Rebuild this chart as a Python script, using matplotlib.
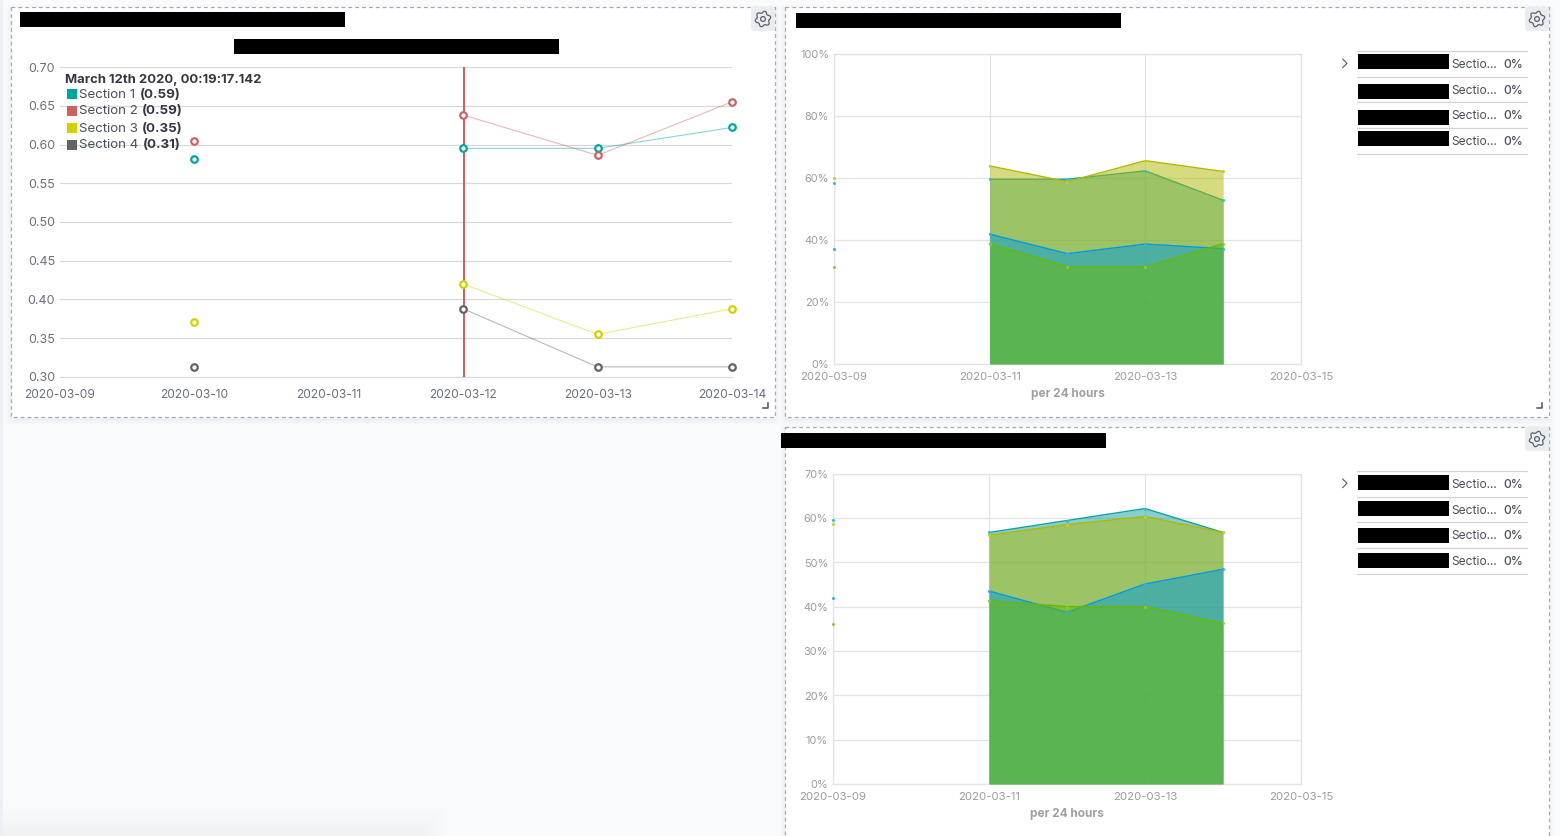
import numpy as np
import pandas as pd
import matplotlib
matplotlib.use("Agg")
import matplotlib.pyplot as plt
from matplotlib.patches import Rectangle, Polygon, Circle, FancyBboxPatch
from matplotlib.lines import Line2D
from matplotlib.transforms import ScaledTranslation

plt.rcParams["font.family"] = ["Inter", "DejaVu Sans"]

W, H = 1560, 836

# line chart
line_dates = pd.to_datetime(["2020-03-09", "2020-03-10", "2020-03-11", "2020-03-12", "2020-03-13", "2020-03-14"])
line_ticks = ["2020-03-09", "2020-03-10", "2020-03-11", "2020-03-12", "2020-03-13", "2020-03-14"]
section1 = [np.nan, 0.581, np.nan, 0.595, 0.595, 0.622]
section2 = [np.nan, 0.604, np.nan, 0.638, 0.586, 0.655]
section3 = [np.nan, 0.371, np.nan, 0.420, 0.355, 0.388]
section4 = [np.nan, 0.313, np.nan, 0.388, 0.313, 0.313]
line_yticks = [0.30, 0.35, 0.40, 0.45, 0.50, 0.55, 0.60, 0.65, 0.70]
cursor_time = "2020-03-12 00:08"
tooltip_title = "March 12th 2020, 00:19:17.142"
tooltip_names = ["Section 1", "Section 2", "Section 3", "Section 4"]
tooltip_values = ["(0.59)", "(0.59)", "(0.35)", "(0.31)"]

# area charts
area_dates = pd.to_datetime(["2020-03-09", "2020-03-10", "2020-03-11", "2020-03-12", "2020-03-13", "2020-03-14"])
area_ticks = ["2020-03-09", "2020-03-11", "2020-03-13", "2020-03-15"]

top_teal = [58.4, np.nan, 59.6, 59.6, 62.3, 52.8]
top_yellow = [60.0, np.nan, 63.9, 58.8, 65.6, 62.1]
top_blue = [37.1, np.nan, 41.9, 35.6, 38.7, 37.2]
top_green = [31.3, np.nan, 38.8, 31.4, 31.4, 38.8]

low_teal = [59.5, np.nan, 56.7, 59.4, 62.1, 56.7]
low_yellow = [58.6, np.nan, 56.1, 58.5, 60.3, 56.7]
low_blue = [41.9, np.nan, 43.5, 38.7, 45.1, 48.4]
low_green = [36.0, np.nan, 41.3, 40.0, 40.0, 36.2]

TEAL, RED, YELLOW, GREY = "#00A69B", "#CA6464", "#D2D200", "#636363"
A_TEAL, A_YELLOW, A_BLUE, A_GREEN = "#10A19F", "#B1B900", "#009CDF", "#66BA01"
D_TEAL, D_YELLOW, D_BLUE, D_GREEN = "#35BFD0", "#C4D02E", "#30B0E8", "#8CCB30"

fig = plt.figure(figsize=(W / 100, H / 100), dpi=100, facecolor="#FAFBFD")


def px_axes(x0, y0, x1, y1, z=1):
    return fig.add_axes([x0 / W, 1 - y1 / H, (x1 - x0) / W, (y1 - y0) / H], zorder=z)


# page furniture in pixel coordinates
bg = px_axes(0, 0, W, H, 0)
bg.set_xlim(0, W)
bg.set_ylim(H, 0)
bg.axis("off")
over = px_axes(0, 0, W, H, 5)
over.set_xlim(0, W)
over.set_ylim(H, 0)
over.axis("off")
over.patch.set_alpha(0)

bg.add_patch(Rectangle((0, 0), 2.5, H, fc="#EEF0F6", ec="none"))
# grey fade at the bottom left of the page
for i in range(10):
    bg.add_patch(Rectangle((3, 806 + i * 3), 445 - 3 * i, 40, fc="#98A2B3", ec="none", alpha=0.008))


def panel(x0, y0, x1, y1):
    for i in range(1, 6):
        bg.add_patch(Rectangle((x0 - i, y0 - i + 3), x1 - x0 + 2 * i, y1 - y0 + 2 * i, fc="#98A2B3", ec="none", alpha=0.02))
    bg.add_patch(Rectangle((x0, y0), x1 - x0, y1 - y0, fc="white", ec="#A0A9C0", lw=0.9, ls=(0, (3, 2.5))))


def gear(cx, cy):
    over.add_patch(FancyBboxPatch((cx - 12, cy - 12), 24, 24, boxstyle="round,pad=0,rounding_size=3", fc="#EAECEE", ec="none"))
    ang = np.linspace(0, 2 * np.pi, 145)
    rad = 6.9 + 1.0 * np.cos(6 * ang + np.pi / 2)
    pts = np.column_stack((cx + rad * np.cos(ang), cy + rad * np.sin(ang)))
    over.add_patch(Polygon(pts, closed=True, fc="none", ec="#5A6270", lw=0.9))
    over.add_patch(Circle((cx, cy), 2.4, fc="none", ec="#5A6270", lw=0.9))


def corner(x, y):
    over.add_line(Line2D([x - 5, x, x], [y, y, y - 5], color="#4A5260", lw=1.1))


def redact(x0, y0, x1, y1):
    over.add_patch(Rectangle((x0, y0), x1 - x0, y1 - y0, fc="black", ec="none"))


panel(10.5, 7, 775, 417)
panel(784.5, 7, 1549, 417)
panel(784.5, 427, 1549, 850)
gear(763, 19)
gear(1537, 19)
gear(1537, 439)
corner(767.5, 408)
corner(1541.5, 408)

redact(20, 12, 345, 27)
redact(234, 39, 559, 54)
redact(796, 13, 1121, 28)
redact(781, 433, 1106, 448)

# line chart
ax = px_axes(60, 67, 732, 377, 2)
ax.set_facecolor("none")
ax.set_xlim(line_dates[0], line_dates[-1])
ax.set_ylim(0.30, 0.70)
for vals, col in [(section1, TEAL), (section2, RED), (section3, YELLOW), (section4, GREY)]:
    ax.plot(line_dates, vals, color=col, lw=0.8, alpha=0.45, zorder=3, clip_on=False)
ax.axvline(pd.Timestamp(cursor_time), color=RED, lw=1.5, zorder=4)
for vals, col in [(section1, TEAL), (section2, RED), (section3, YELLOW), (section4, GREY)]:
    ax.plot(line_dates, vals, ls="none", marker="o", ms=4.7, mfc="white", mec=col, mew=1.6, zorder=5, clip_on=False)
ax.set_yticks(line_yticks)
ax.set_yticklabels([f"{v:.2f}" for v in line_yticks])
ax.set_xticks(line_dates)
ax.set_xticklabels(line_ticks)
ax.grid(axis="y", color="#D8D9DC", lw=0.9)
ax.set_axisbelow(True)
ax.tick_params(length=0, labelsize=9.0, labelcolor="#69707D")
ax.tick_params(axis="x", pad=9, labelsize=8.6)
ax.tick_params(axis="y", pad=3.5)
for s in ["top", "right", "left"]:
    ax.spines[s].set_visible(False)
ax.spines["bottom"].set_color("#D8D9DC")

over.text(65, 80, tooltip_title, fontsize=9.4, fontweight="bold", color="#343741", va="center", ha="left")
for i, (name, val, col) in enumerate(zip(tooltip_names, tooltip_values, [TEAL, RED, YELLOW, GREY])):
    yy = 93.5 + i * 17
    over.add_patch(Rectangle((67, yy - 5), 10, 10, fc=col, ec="none"))
    t = over.text(79.3, yy + 1, name, fontsize=9.6, color="#4A4F59", va="center", ha="left")
    fig.canvas.draw()
    bb = t.get_window_extent()
    over.text(bb.x1 + 4, yy + 1, val, fontsize=9.6, fontweight="bold", color="#343741", va="center", ha="left")


def area_chart(x0, x1, y0, y1, ymax, yticks, teal, yellow, blue, green):
    a = px_axes(x0, y0, x1, y1, 2)
    a.set_xlim(pd.Timestamp("2020-03-09"), pd.Timestamp("2020-03-15"))
    a.set_ylim(0, ymax)
    series = [(teal, A_TEAL, D_TEAL), (yellow, A_YELLOW, D_YELLOW), (blue, A_BLUE, D_BLUE), (green, A_GREEN, D_GREEN)]
    for i, (vals, col, dot) in enumerate(series):
        v = np.array(vals, dtype=float)
        keep = area_dates >= pd.Timestamp("2020-03-11")
        # each line sits under the later fills, as in the original stacking
        a.plot(area_dates[keep], v[keep], color=col, lw=1.0, zorder=2 + i)
        a.fill_between(area_dates[keep], 0, v[keep], color=col, alpha=0.5, lw=0, zorder=2 + i)
        a.plot(area_dates, v, ls="none", marker="o", ms=2.2, color=dot, mew=0, zorder=10, clip_on=False)
    a.set_yticks(yticks)
    a.set_yticklabels([f"{t}%" for t in yticks])
    a.set_xticks(pd.to_datetime(area_ticks))
    a.set_xticklabels(area_ticks)
    a.grid(color="#E3E3E3", lw=0.9)
    a.set_axisbelow(True)
    a.tick_params(length=0, labelcolor="#9C9C9C")
    a.tick_params(axis="x", pad=5.5, labelsize=8.2)
    a.tick_params(axis="y", pad=3.5, labelsize=7.9)
    # percent labels sit a little below their gridlines
    nudge = ScaledTranslation(0, -0.4 / 100, fig.dpi_scale_trans)
    for lab in a.get_yticklabels():
        lab.set_transform(lab.get_transform() + nudge)
    for s in a.spines.values():
        s.set_color("#E3E3E3")
        s.set_linewidth(0.9)
    a.text(0.5, -30 / 310, "per 24 hours", transform=a.transAxes, ha="center", va="center", fontsize=8.5, fontweight="bold", color="#A0A0A0")
    return a


area_chart(834, 1301, 54, 364, 100, [0, 20, 40, 60, 80, 100], top_teal, top_yellow, top_blue, top_green)
area_chart(833, 1301, 473.5, 784, 70, [0, 10, 20, 30, 40, 50, 60, 70], low_teal, low_yellow, low_blue, low_green)


def legend(y_rules, y_boxes):
    for y in y_rules:
        over.add_line(Line2D([1357, 1527], [y, y], color="#D3D3D3", lw=0.9))
    top = y_rules[0]
    over.add_line(Line2D([1342.7, 1347, 1342.7], [top + 8, top + 12.3, top + 16.6], color="#555B66", lw=0.8))
    for yb, off in zip(y_boxes, [13.5, 40, 65, 91]):
        redact(1358, yb, 1449, yb + 15)
        over.text(1451, top + off, "Sectio...", fontsize=8.6, color="#4A4F59", va="center", ha="left")
        over.text(1523, top + off, "0%", fontsize=8.8, fontweight="medium", color="#4A4F59", va="center", ha="right")


legend([51, 77, 102, 128, 154], [54, 84, 110, 131])
legend([471, 497, 522, 548, 574], [475, 501, 528, 553])

fig.savefig("out.png", dpi=100, facecolor=fig.get_facecolor())
